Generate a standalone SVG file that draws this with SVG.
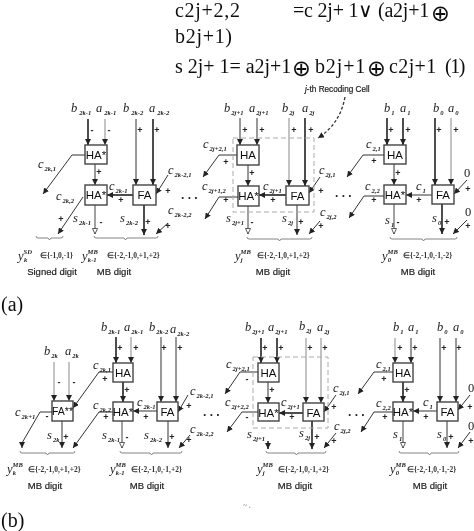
<svg xmlns="http://www.w3.org/2000/svg" width="474" height="531" viewBox="0 0 474 531">
<style>
.eq{font:20px "Liberation Serif",serif;fill:#111;letter-spacing:.7px}
.ox{font:22.5px "DejaVu Sans",sans-serif;fill:#111}
.cap{font:20px "Liberation Serif",serif;fill:#111}
.v{font:italic 12.5px "Liberation Serif",serif;fill:#222}
.v tspan{font-size:6.6px;font-weight:bold}
.p{font:bold 9px "Liberation Sans",sans-serif;fill:#222;text-anchor:middle;dominant-baseline:central}
.n{font:11.5px "Liberation Sans",sans-serif;fill:#111;text-anchor:middle;dominant-baseline:central}
.r{font:8.2px "Liberation Sans",sans-serif;fill:#222;stroke:#222;stroke-width:.2}
.d{font:9.5px "Liberation Sans",sans-serif;fill:#222;text-anchor:middle;stroke:#222;stroke-width:.2}
.set{font:7.5px "Liberation Serif",serif;font-weight:bold;fill:#333}
.dots{font:bold 12px "Liberation Sans",sans-serif;fill:#222}
.box{fill:#fff;stroke:#444;stroke-width:1.4}
path{fill:none}
.w{stroke:#333;stroke-width:1;marker-end:url(#ah)}
.t{stroke:#222;stroke-width:1.6;marker-end:url(#ah)}
.g{stroke:#888;stroke-width:1;marker-end:url(#ah)}
.o{stroke:#444;stroke-width:1;marker-end:url(#oh)}
.br{stroke:#777;stroke-width:.9}
.dash{fill:none;stroke:#aaa;stroke-width:1;stroke-dasharray:5 3}
</style>
<defs>
<filter id="soft" x="0" y="0" width="100%" height="100%"><feGaussianBlur stdDeviation="0.4"/></filter>
<marker id="ah" markerUnits="userSpaceOnUse" markerWidth="7" markerHeight="6" refX="6" refY="3" orient="auto"><path d="M0 0L6 3L0 6Z" style="fill:#222"/></marker>
<marker id="oh" markerUnits="userSpaceOnUse" markerWidth="7" markerHeight="6" refX="6" refY="3" orient="auto"><path d="M0.5 0.5L6 3L0.5 5.5Z" style="fill:#fff;stroke:#333;stroke-width:.8"/></marker>
</defs>
<g filter="url(#soft)">
<g id="equations">
<text class="eq" x="175" y="17">c2j+2,2</text>
<text class="eq" x="293" y="17" textLength="137">=c 2j+ 1∨ (a2j+1</text><text class="ox" x="431" y="21">⊕</text>
<text class="eq" x="175" y="43">b2j+1)</text>
<text class="eq" x="175" y="73" textLength="117">s 2j+ 1= a2j+1</text><text class="ox" x="292" y="76">⊕</text>
<text class="eq" x="315" y="73" textLength="51">b2j+1</text><text class="ox" x="367" y="76">⊕</text>
<text class="eq" x="389" y="73" textLength="48">c2j+1</text><text class="eq" x="445" y="73" textLength="21">(1)</text>
</g>
<g id="connectors">
<path class="t" d="M88 119V145"/><path class="g" d="M105 119V145"/><path class="w" d="M136 119V185"/><path class="t" d="M153 119V185"/>
<path class="w" d="M95 164V185"/><path class="w" d="M85 155H72L43 194"/><path class="w" d="M83 197L58 234"/>
<path class="o" d="M95 205V234"/><path class="t" d="M144 205V235"/><path class="t" d="M133 195H107"/>
<path class="w" d="M168 175L156 194"/><path class="w" d="M168 223L156 234"/>
<path class="w" d="M240 118V145"/><path class="w" d="M257 118V145"/><path class="g" d="M289 118V186"/><path class="t" d="M305 118V186"/>
<path class="w" d="M248 165V186"/><path class="w" d="M237 155H219L203 177"/><path class="w" d="M238 197H219L205 219"/>
<path class="o" d="M248 206V234"/><path class="w" d="M297 205V235"/><path class="t" d="M286 195H259"/>
<path class="w" d="M320 177L309 193"/><path class="w" d="M320 221L309 234"/>
<path class="t" d="M387 118V145"/><path class="t" d="M403 118V145"/><path class="t" d="M435 118V185"/><path class="g" d="M451 118V185"/>
<path class="w" d="M394 164V185"/><path class="w" d="M384 155H363L347 177"/><path class="w" d="M384 196H364L349 218"/>
<path class="o" d="M394 204V234"/><path class="t" d="M442 204V234"/><path class="w" d="M432 195H406"/>
<path class="w" d="M467 180L454 194"/><path class="w" d="M467 220L453 234"/>
<path class="w" style="stroke-dasharray:3 2;stroke-width:1.3" d="M345 97Q340 124 318 138"/>
<path class="g" d="M54 362V401"/><path class="g" d="M69 362V401"/>
<path class="t" d="M116 337V363"/><path class="g" d="M131 337V363"/><path class="w" d="M161 337V402"/><path class="w" d="M176 337V402"/>
<path class="t" d="M123 382V402"/><path class="w" d="M113 372H99L73 408"/><path class="w" d="M52 412H40L22 443V448"/>
<path class="w" d="M62 421V448"/><path class="w" d="M113 412H99L73 448"/><path class="o" d="M122 421V448"/><path class="w" d="M168 421V448"/>
<path class="w" d="M157 411H133"/><path class="w" d="M188 395L178 412"/><path class="w" d="M190 435L179 448"/>
<path class="t" d="M261 338V363"/><path class="t" d="M277 338V363"/><path class="g" d="M306 338V403"/><path class="g" d="M321 338V403"/>
<path class="w" d="M268 382V403"/><path class="w" d="M258 372H240L225 394"/><path class="w" d="M258 412H242L227 432"/>
<path class="t" d="M303 413H279"/><path class="t" d="M268 441V449"/><path class="t" d="M312 421V449"/>
<path class="w" d="M336 395L324 412"/><path class="w" d="M336 433L324 448"/>
<path class="g" d="M395 338V363"/><path class="w" d="M411 338V363"/><path class="w" d="M440 338V402"/><path class="w" d="M456 338V402"/>
<path class="t" d="M403 382V402"/><path class="w" d="M393 372H374L358 394"/><path class="w" d="M393 412H374L361 432"/>
<path class="o" d="M403 421V448"/><path class="w" d="M447 421V448"/><path class="w" d="M437 411H413"/>
<path class="w" d="M470 395L458 410"/><path class="w" d="M470 432L458 448"/>
<path class="br" d="M36 236q0 2 2 2H48l1.500 2l1.500-2H61q2 0 2-2"/>
<path class="br" d="M94 236q0 2 2 2H124l1.500 2l1.500-2H156q2 0 2-2"/>
<path class="br" d="M247 237q0 2 2 2H278l1.500 2l1.500-2H310q2 0 2-2"/>
<path class="br" d="M390 237q0 2 2 2H422l1.500 2l1.500-2H455q2 0 2-2"/>
<path class="br" d="M20 451q0 2 2 2H46l1.500 2l1.500-2H73q2 0 2-2"/>
<path class="br" d="M120 451q0 2 2 2H150l1.500 2l1.500-2H180q2 0 2-2"/>
<path class="br" d="M266 451q0 2 2 2H295l1.500 2l1.500-2H324q2 0 2-2"/>
<path class="br" d="M399 451q0 2 2 2H428l1.500 2l1.500-2H457q2 0 2-2"/>
</g>
<rect class="dash" x="233" y="138" width="81" height="74"/>
<rect class="dash" x="253" y="357" width="75" height="71"/>
<g id="a-ha-k"><rect class="box" x="85" y="145" width="22" height="19"/><text class="n" x="96" y="155">HA*</text></g>
<g id="a-has-k"><rect class="box" x="85" y="185" width="22" height="20"/><text class="n" x="96" y="195">HA*</text></g>
<g id="a-fa-k"><rect class="box" x="133" y="185" width="23" height="20"/><text class="n" x="144.500" y="195">FA</text></g>
<g id="a-ha-j"><rect class="box" x="237" y="145" width="22" height="20"/><text class="n" x="248" y="155">HA</text></g>
<g id="a-has-j"><rect class="box" x="238" y="186" width="21" height="20"/><text class="n" x="248.500" y="196">HA*</text></g>
<g id="a-fa-j"><rect class="box" x="286" y="186" width="23" height="19"/><text class="n" x="297.500" y="196">FA</text></g>
<g id="a-ha-0"><rect class="box" x="384" y="145" width="22" height="19"/><text class="n" x="395" y="155">HA</text></g>
<g id="a-has-0"><rect class="box" x="384" y="185" width="22" height="19"/><text class="n" x="395" y="195">HA*</text></g>
<g id="a-fa-0"><rect class="box" x="432" y="185" width="22" height="19"/><text class="n" x="443" y="195">FA</text></g>
<g id="b-fa-k"><rect class="box" x="52" y="401" width="21" height="20"/><text class="n" x="62.500" y="411" style="font-size:10.5px">FA**</text></g>
<g id="b-ha-k"><rect class="box" x="113" y="363" width="20" height="19"/><text class="n" x="123" y="373">HA</text></g>
<g id="b-has-k"><rect class="box" x="113" y="402" width="20" height="19"/><text class="n" x="123" y="412">HA*</text></g>
<g id="b-fb-k"><rect class="box" x="157" y="402" width="21" height="19"/><text class="n" x="167.500" y="412">FA</text></g>
<g id="b-ha-j"><rect class="box" x="258" y="363" width="21" height="19"/><text class="n" x="268.500" y="373">HA</text></g>
<g id="b-has-j"><rect class="box" x="258" y="403" width="21" height="18"/><text class="n" x="268.500" y="412.500">HA*</text></g>
<g id="b-fa-j"><rect class="box" x="303" y="403" width="21" height="18"/><text class="n" x="313.500" y="412.500">FA</text></g>
<g id="b-ha-0"><rect class="box" x="393" y="363" width="20" height="19"/><text class="n" x="403" y="373">HA</text></g>
<g id="b-has-0"><rect class="box" x="393" y="402" width="20" height="19"/><text class="n" x="403" y="412">HA*</text></g>
<g id="b-fa-0"><rect class="box" x="437" y="402" width="21" height="19"/><text class="n" x="447.500" y="412">FA</text></g>
<g id="labels-a">
<text class="r" x="305" y="92"><tspan font-style="italic">j</tspan>-th Recoding Cell</text>
<text class="v" x="71" y="112">b<tspan dy="3" dx="2">2k-1</tspan></text>
<text class="v" x="96" y="112">a<tspan dy="3" dx="2">2k-1</tspan></text>
<text class="v" x="123" y="112">b<tspan dy="3" dx="2">2k-2</tspan></text>
<text class="v" x="149" y="112">a<tspan dy="3" dx="2">2k-2</tspan></text>
<text class="v" x="38" y="168">c<tspan dy="3" dx="1">2k,1</tspan></text>
<text class="v" x="56" y="200">c<tspan dy="3" dx="1">2k,2</tspan></text>
<text class="v" x="73" y="222">s<tspan dy="3" dx="1">2k-1</tspan></text>
<text class="v" x="120" y="222">s<tspan dy="3" dx="1">2k-2</tspan></text>
<text class="v" x="109" y="190">c<tspan dy="3" dx="1">2k-1</tspan></text>
<text class="v" x="168" y="174">c<tspan dy="3" dx="1">2k-2,1</tspan></text>
<text class="v" x="168" y="214">c<tspan dy="3" dx="1">2k-2,2</tspan></text>
<text class="v" x="224" y="112">b<tspan dy="3" dx="1">2j+1</tspan></text>
<text class="v" x="249" y="112">a<tspan dy="3" dx="1">2j+1</tspan></text>
<text class="v" x="282" y="112">b<tspan dy="3" dx="1">2j</tspan></text>
<text class="v" x="302" y="112">a<tspan dy="3" dx="1">2j</tspan></text>
<text class="v" x="203" y="148">c<tspan dy="3" dx="1">2j+2,1</tspan></text>
<text class="v" x="202" y="190">c<tspan dy="3" dx="1">2j+1,2</tspan></text>
<text class="v" x="263" y="190">c<tspan dy="3" dx="1">2j+1</tspan></text>
<text class="v" x="319" y="174">c<tspan dy="3" dx="1">2j,1</tspan></text>
<text class="v" x="320" y="216">c<tspan dy="3" dx="1">2j,2</tspan></text>
<text class="v" x="226" y="222">s<tspan dy="3" dx="1">2j+1</tspan></text>
<text class="v" x="282" y="222">s<tspan dy="3" dx="1">2j</tspan></text>
<text class="v" x="384" y="112">b<tspan dy="3" dx="1">1</tspan></text>
<text class="v" x="400" y="112">a<tspan dy="3" dx="1">1</tspan></text>
<text class="v" x="433" y="112">b<tspan dy="3" dx="1">0</tspan></text>
<text class="v" x="448" y="112">a<tspan dy="3" dx="1">0</tspan></text>
<text class="v" x="366" y="148">c<tspan dy="3" dx="1">2,1</tspan></text>
<text class="v" x="365" y="190">c<tspan dy="3" dx="1">2,2</tspan></text>
<text class="v" x="416" y="190">c<tspan dy="3" dx="1">1</tspan></text>
<text class="v" x="385" y="224">s<tspan dy="3" dx="1">1</tspan></text>
<text class="v" x="432" y="222">s<tspan dy="3" dx="1">0</tspan></text>
<text class="v" style="font-style:normal" x="464" y="177">0</text>
<text class="v" style="font-style:normal" x="465" y="216">0</text>
<text class="p" x="92" y="130">-</text><text class="p" x="109" y="130">-</text><text class="p" x="140" y="130">+</text><text class="p" x="157" y="130">+</text><text class="p" x="99" y="172">+</text><text class="p" x="121" y="200">+</text><text class="p" x="168" y="191">+</text><text class="p" x="148" y="222">+</text><text class="p" x="101" y="222">-</text><text class="p" x="61" y="219">+</text><text class="p" x="168" y="226">+</text>
<text class="p" x="245" y="130">+</text><text class="p" x="262" y="130">+</text><text class="p" x="294" y="130">+</text><text class="p" x="311" y="130">+</text><text class="p" x="252" y="173">+</text><text class="p" x="226" y="162">+</text><text class="p" x="226" y="200">+</text><text class="p" x="273" y="200">+</text><text class="p" x="321" y="191">+</text><text class="p" x="321" y="226">+</text><text class="p" x="301" y="222">+</text><text class="p" x="252" y="222">-</text>
<text class="p" x="391" y="130">+</text><text class="p" x="408" y="130">+</text><text class="p" x="439" y="130">+</text><text class="p" x="456" y="130">+</text><text class="p" x="398" y="173">+</text><text class="p" x="374" y="161">+</text><text class="p" x="374" y="200">+</text><text class="p" x="419" y="200">+</text><text class="p" x="468" y="189">+</text><text class="p" x="468" y="226">+</text><text class="p" x="447" y="222">+</text><text class="p" x="398" y="222">-</text>
<text class="dots" x="181" y="199">. . .</text><text class="dots" x="335" y="197">. . .</text>
<text class="v" x="18" y="260">y<tspan dy="-6">SD</tspan><tspan dy="8" dx="-8">k</tspan></text><text class="set" x="40" y="258">∈{-1,0,-1}</text>
<text class="v" x="82" y="260">y<tspan dy="-6">MB</tspan><tspan dy="8" dx="-10">k-1</tspan></text><text class="set" x="107" y="258">∈{-2,-1,0,+1,+2}</text>
<text class="v" x="235" y="260">y<tspan dy="-6">MB</tspan><tspan dy="8" dx="-10">j</tspan></text><text class="set" x="257" y="258">∈{-2,-1,0,+1,+2}</text>
<text class="v" x="382" y="260">y<tspan dy="-6">MB</tspan><tspan dy="8" dx="-10">0</tspan></text><text class="set" x="403" y="258">∈{-2,-1,0,-1,-2}</text>
<text class="d" x="52" y="275">Signed digit</text><text class="d" x="114" y="275">MB digit</text><text class="d" x="273" y="275">MB digit</text><text class="d" x="418" y="275">MB digit</text>
<text class="cap" x="1" y="311">(a)</text>
</g>
<g id="labels-b">
<text class="v" x="44" y="355">b<tspan dy="3" dx="1">2k</tspan></text>
<text class="v" x="65" y="355">a<tspan dy="3" dx="1">2k</tspan></text>
<text class="v" x="101" y="331">b<tspan dy="3" dx="1">2k-1</tspan></text>
<text class="v" x="124" y="331">a<tspan dy="3" dx="1">2k-1</tspan></text>
<text class="v" x="149" y="331">b<tspan dy="3" dx="1">2k-2</tspan></text>
<text class="v" x="170" y="333">a<tspan dy="3" dx="1">2k-2</tspan></text>
<text class="v" x="93" y="369">c<tspan dy="3" dx="1">2k,1</tspan></text>
<text class="v" x="15" y="416">c<tspan dy="3" dx="1">2k+1</tspan></text>
<text class="v" x="47" y="439">s<tspan dy="3" dx="1">2k</tspan></text>
<text class="v" x="93" y="409">c<tspan dy="3" dx="1">2k,2</tspan></text>
<text class="v" x="137" y="406">c<tspan dy="3" dx="1">2k-1</tspan></text>
<text class="v" x="102" y="439">s<tspan dy="3" dx="1">2k-1</tspan></text>
<text class="v" x="144" y="439">s<tspan dy="3" dx="1">2k-2</tspan></text>
<text class="v" x="190" y="395">c<tspan dy="3" dx="1">2k-2,1</tspan></text>
<text class="v" x="190" y="433">c<tspan dy="3" dx="1">2k-2,2</tspan></text>
<text class="v" x="245" y="331">b<tspan dy="3" dx="1">2j+1</tspan></text>
<text class="v" x="268" y="331">a<tspan dy="3" dx="1">2j+1</tspan></text>
<text class="v" x="299" y="330">b<tspan dy="3" dx="1">2j</tspan></text>
<text class="v" x="317" y="331">a<tspan dy="3" dx="1">2j</tspan></text>
<text class="v" x="226" y="368">c<tspan dy="3" dx="1">2j+2,1</tspan></text>
<text class="v" x="225" y="406">c<tspan dy="3" dx="1">2j+2,2</tspan></text>
<text class="v" x="281" y="406">c<tspan dy="3" dx="1">2j+1</tspan></text>
<text class="v" x="333" y="392">c<tspan dy="3" dx="1">2j,1</tspan></text>
<text class="v" x="334" y="430">c<tspan dy="3" dx="1">2j,2</tspan></text>
<text class="v" x="247" y="438">s<tspan dy="3" dx="1">2j+1</tspan></text>
<text class="v" x="299" y="437">s<tspan dy="3" dx="1">2j</tspan></text>
<text class="v" x="393" y="331">b<tspan dy="3" dx="1">1</tspan></text>
<text class="v" x="408" y="331">a<tspan dy="3" dx="1">1</tspan></text>
<text class="v" x="437" y="331">b<tspan dy="3" dx="1">0</tspan></text>
<text class="v" x="453" y="331">a<tspan dy="3" dx="1">0</tspan></text>
<text class="v" x="376" y="368">c<tspan dy="3" dx="1">2,1</tspan></text>
<text class="v" x="376" y="407">c<tspan dy="3" dx="1">2,2</tspan></text>
<text class="v" x="423" y="406">c<tspan dy="3" dx="1">1</tspan></text>
<text class="v" x="393" y="438">s<tspan dy="3" dx="1">1</tspan></text>
<text class="v" x="437" y="438">s<tspan dy="3" dx="1">0</tspan></text>
<text class="v" style="font-style:normal" x="468" y="392">0</text>
<text class="v" style="font-style:normal" x="468" y="430">0</text>
<text class="p" x="120" y="348">+</text><text class="p" x="136" y="348">+</text><text class="p" x="164" y="348">+</text><text class="p" x="180" y="348">+</text><text class="p" x="59" y="382">-</text><text class="p" x="74" y="382">-</text><text class="p" x="105" y="379">+</text><text class="p" x="127" y="390">+</text><text class="p" x="47" y="416">-</text><text class="p" x="106" y="417">+</text><text class="p" x="146" y="417">+</text><text class="p" x="189" y="406">+</text><text class="p" x="189" y="440">+</text><text class="p" x="66" y="437">+</text><text class="p" x="172" y="437">+</text><text class="p" x="127" y="437">-</text>
<text class="p" x="265" y="348">+</text><text class="p" x="281" y="348">+</text><text class="p" x="310" y="348">+</text><text class="p" x="325" y="348">+</text><text class="p" x="272" y="390">+</text><text class="p" x="247" y="379">-</text><text class="p" x="247" y="417">-</text><text class="p" x="292" y="417">+</text><text class="p" x="334" y="407">+</text><text class="p" x="334" y="441">+</text><text class="p" x="317" y="437">+</text>
<text class="p" x="400" y="348">+</text><text class="p" x="415" y="348">+</text><text class="p" x="444" y="348">+</text><text class="p" x="459" y="348">+</text><text class="p" x="407" y="390">+</text><text class="p" x="384" y="379">+</text><text class="p" x="385" y="417">+</text><text class="p" x="426" y="417">+</text><text class="p" x="470" y="407">+</text><text class="p" x="471" y="441">+</text><text class="p" x="451" y="437">+</text>
<text class="dots" x="203" y="416">. . .</text><text class="dots" x="348" y="416">. . .</text>
<text class="v" x="7" y="473">y<tspan dy="-6">MB</tspan><tspan dy="8" dx="-10">k</tspan></text><text class="set" x="28" y="472">∈{-2,-1,0,+1,+2}</text>
<text class="v" x="110" y="473">y<tspan dy="-6">MB</tspan><tspan dy="8" dx="-10">k-1</tspan></text><text class="set" x="131" y="472">∈{-2,-1,0,-1,+2}</text>
<text class="v" x="257" y="473">y<tspan dy="-6">MB</tspan><tspan dy="8" dx="-10">j</tspan></text><text class="set" x="278" y="472">∈{-2,-1,0,-1,+2}</text>
<text class="v" x="390" y="473">y<tspan dy="-6">MB</tspan><tspan dy="8" dx="-10">0</tspan></text><text class="set" x="407" y="472">∈{-2,-1,0,-1,-2}</text>
<text class="d" x="45" y="489">MB digit</text><text class="d" x="147" y="489">MB digit</text><text class="d" x="295" y="489">MB digit</text><text class="d" x="430" y="489">MB digit</text>
<text class="set" style="fill:#999" x="243" y="508">~ .</text>
<text class="cap" x="1" y="527">(b)</text>
</g>
</g>
</svg>
